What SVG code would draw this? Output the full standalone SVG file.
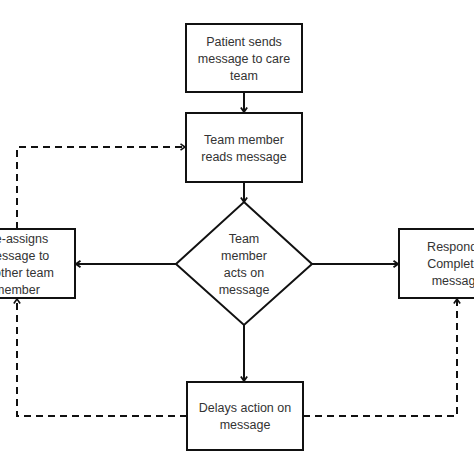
<svg xmlns="http://www.w3.org/2000/svg" width="474" height="474" viewBox="0 0 474 474">
<style>
.box{fill:#fff;stroke:#111;stroke-width:2}
.t{font-family:"Liberation Sans",Arial,sans-serif;font-size:12.5px;fill:#333;text-anchor:middle}
.c{fill:none;stroke:#111;stroke-width:2}
.d{fill:none;stroke:#111;stroke-width:2;stroke-dasharray:7,5}
</style>
<defs>
<marker id="ah" viewBox="0 0 10 10" refX="9" refY="5" markerWidth="9" markerHeight="9" orient="auto" markerUnits="userSpaceOnUse">
<path d="M4,1.5 L9,5 L4,8.5" fill="none" stroke="#111" stroke-width="2"/>
</marker>
<marker id="ahd" viewBox="0 0 10 10" refX="9" refY="5" markerWidth="9" markerHeight="9" orient="auto" markerUnits="userSpaceOnUse">
<path d="M4,1.5 L9,5 L4,8.5" fill="none" stroke="#111" stroke-width="1.8"/>
</marker>
</defs>
<rect width="474" height="474" fill="#fff"/>
<g id="connectors">
<path class="c" d="M244,92 V112" marker-end="url(#ah)"/>
<path class="c" d="M244,182 V202" marker-end="url(#ah)"/>
<path class="c" d="M176,264 H76" marker-end="url(#ah)"/>
<path class="c" d="M312,264 H398" marker-end="url(#ah)"/>
<path class="c" d="M244,325 V381" marker-end="url(#ah)"/>
<path class="d" d="M17,229 V147 H185" marker-end="url(#ahd)"/>
<path class="d" d="M187,416 H17 V299" marker-end="url(#ahd)"/>
<path class="d" d="M303,416 H457 V299" marker-end="url(#ahd)"/>
</g>
<g id="n1">
<rect class="box" x="186" y="24" width="116" height="68"/>
<text class="t" x="244" y="46">Patient sends</text>
<text class="t" x="244" y="63">message to care</text>
<text class="t" x="244" y="80">team</text>
</g>
<g id="n2">
<rect class="box" x="186" y="113" width="116" height="69"/>
<text class="t" x="244" y="144">Team member</text>
<text class="t" x="244" y="161">reads message</text>
</g>
<g id="n3">
<path class="box" d="M244,202 L312,264 L244,325 L176,264 Z"/>
<text class="t" x="244" y="243">Team</text>
<text class="t" x="244" y="260">member</text>
<text class="t" x="244" y="277">acts on</text>
<text class="t" x="244" y="294">message</text>
</g>
<g id="n4">
<rect class="box" x="-41" y="229" width="116" height="69"/>
<text class="t" x="17" y="243">Re-assigns</text>
<text class="t" x="17" y="260">message to</text>
<text class="t" x="17" y="277">another team</text>
<text class="t" x="17" y="294">member</text>
</g>
<g id="n5">
<rect class="box" x="399" y="229" width="116" height="69"/>
<text class="t" x="457" y="251">Responds/</text>
<text class="t" x="457" y="268">Completes</text>
<text class="t" x="457" y="285">message</text>
</g>
<g id="n6">
<rect class="box" x="187" y="382" width="116" height="68"/>
<text class="t" x="245" y="412">Delays action on</text>
<text class="t" x="245" y="429">message</text>
</g>
</svg>
